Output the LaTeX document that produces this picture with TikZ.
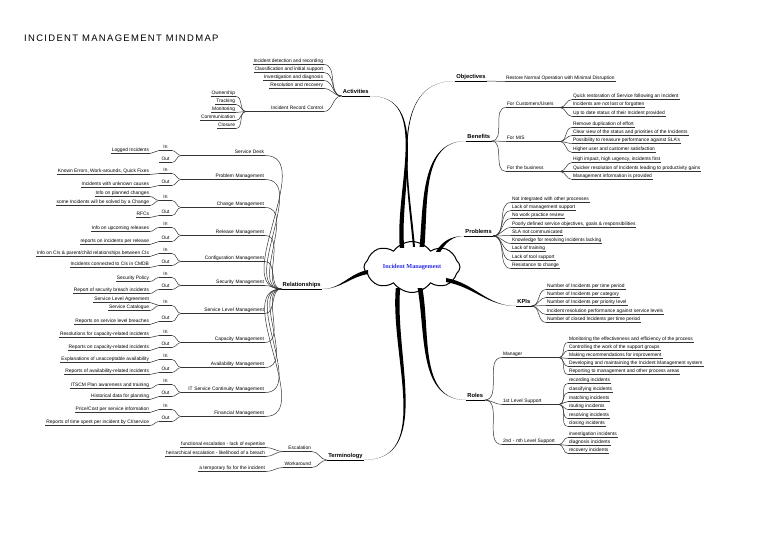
\documentclass[tikz,border=0pt]{standalone}
\usepackage{fontspec}
\setmainfont{Liberation Sans}
\newfontfamily\serifb{Liberation Serif}
\usetikzlibrary{shapes.symbols,calc}
\tikzset{
 lf/.style={font=\fontsize{4.9}{5}\selectfont, inner sep=0.8bp, text height=3.5bp, text depth=0.9bp},
 ml/.style={font=\fontsize{5.8}{6}\selectfont\bfseries, inner sep=1.2bp, text height=4bp, text depth=1bp},
 ul/.style={line width=0.5bp, black!80},
 con/.style={line width=0.5bp, black!80},
 brc/.style={black},
}
\newcommand\RN[6][]{\node[lf,anchor=south west,#1] (#2) at (#3,-#4-3.5) {#5};
 \draw[ul] (#2.south west)--(#2.south east);
 \draw[con] (#6.south east) to[out=0,in=180] (#2.south west);}
\newcommand\LN[6][]{\node[lf,anchor=south east,#1] (#2) at (#3,-#4-3.5) {#5};
 \draw[ul] (#2.south west)--(#2.south east);
 \draw[con] (#6.south west) to[out=180,in=0] (#2.south east);}
\newcommand\BR[5]{\fill[brc] ($(#1)+(#5)$) to[out=#3,in=#4] (#2) to[out=#4,in=#3] ($(#1)-(#5)$) -- cycle;}
\begin{document}
\begin{tikzpicture}[x=1bp,y=1bp]
\useasboundingbox (0,0) rectangle (768,-543);
\fill[white] (0,0) rectangle (768,-543);
\node[anchor=west,inner sep=0,font=\fontsize{9.5}{10}\selectfont\addfontfeature{LetterSpace=14}] (title) at (24,-38) {INCIDENT MANAGEMENT MINDMAP};
% cloud
\node[cloud,cloud puffs=8,cloud puff arc=110,aspect=2.2,draw,line width=1bp,minimum width=96bp,minimum height=44bp,inner sep=0,
 font=\fontsize{6.2}{7}\selectfont\serifb\bfseries,text={rgb,255:red,40;green,40;blue,230}] (cl) at (412,-267) {Incident Management};
% main labels
\node[ml,anchor=south east] (act) at (370,-96) {Activities};
\node[ml,anchor=south west] (obj) at (455,-81) {Objectives};
\node[ml,anchor=south west] (ben) at (466,-141) {Benefits};
\node[ml,anchor=south west] (pro) at (464,-236) {Problems};
\node[ml,anchor=south west] (kpi) at (516,-306) {KPIs};
\node[ml,anchor=south west] (rol) at (466,-400) {Roles};
\node[ml,anchor=south east] (rel) at (322,-289) {Relationships};
\node[ml,anchor=south east] (ter) at (364,-460) {Terminology};
\foreach \n in {act,obj,ben,pro,kpi,rol,rel,ter}{\draw[line width=0.9bp] (\n.south west)--(\n.south east);}
% branches
\coordinate (sAct) at (402,-248);
\coordinate (sObj) at (414,-247);
\coordinate (sBen) at (422,-247);
\coordinate (sPro) at (438,-252);
\coordinate (sKpi) at (446,-280);
\coordinate (sRol) at (420,-288);
\coordinate (sRel) at (368,-272);
\coordinate (sTer) at (398,-288);
\BR{sAct}{act.south east}{95}{0}{2.2,0}
\BR{sObj}{obj.south west}{95}{180}{1,0}
\BR{sBen}{ben.south west}{85}{180}{2.4,0}
\BR{sPro}{pro.south west}{60}{180}{2.2,0}
\BR{sKpi}{kpi.south west}{-10}{180}{0,2}
\BR{sRol}{rol.south west}{-80}{180}{2.4,0}
\BR{sRel}{rel.south east}{190}{0}{0,2}
\BR{sTer}{ter.south east}{-95}{0}{2.2,0}
% Objectives
\RN{o1}{505}{78}{Restore Normal Operation with Minimal Disruption}{obj}
% Benefits
\RN[text width=52bp]{b1}{506}{104}{For Customers/Users}{ben}
\RN[text width=52bp]{b2}{506}{138}{For MIS}{ben}
\RN[text width=52bp]{b3}{506}{168}{For the business}{ben}
\RN{b11}{572}{96}{Quick restoration of Service following an Incident}{b1}
\RN{b12}{572}{104}{Incidents are not lost or forgotten}{b1}
\RN{b13}{572}{113}{Up to date status of their Incident provided}{b1}
\RN{b21}{572}{124}{Remove duplication of effort}{b2}
\RN{b22}{572}{132}{Clear view of the status and priorities of the Incidents}{b2}
\RN{b23}{572}{140}{Possibility to measure performance against SLA's}{b2}
\RN{b24}{572}{149}{Higher user and customer satisfaction}{b2}
\RN{b31}{572}{159}{High impact, high urgency, incidents first}{b3}
\RN{b32}{572}{168}{Quicker resolution of Incidents leading to productivity gains}{b3}
\RN{b33}{572}{176}{Management information is provided}{b3}
% Problems
\RN{p1}{511}{199}{Not integrated with other processes}{pro}
\RN{p2}{511}{207}{Lack of management support}{pro}
\RN{p3}{511}{215}{No work practice review}{pro}
\RN{p4}{511}{224}{Poorly defined service objectives, goals \& responsibilities}{pro}
\RN{p5}{511}{232}{SLA not communicated}{pro}
\RN{p6}{511}{240}{Knowledge for resolving incidents lacking}{pro}
\RN{p7}{511}{248}{Lack of training}{pro}
\RN{p8}{511}{257}{Lack of tool support}{pro}
\RN{p9}{511}{265}{Resistance to change}{pro}
% KPIs
\RN{k1}{546}{286}{Number of Incidents per time period}{kpi}
\RN{k2}{546}{294}{Number of Incidents per category}{kpi}
\RN{k3}{546}{302}{Number of Incidents per priority level}{kpi}
\RN{k4}{546}{311}{Incident resolution performance against service levels}{kpi}
\RN{k5}{546}{319}{Number of closed Incidents per time period}{kpi}
% Roles
\RN[text width=55bp]{r1}{502}{354}{Manager}{rol}
\RN[text width=55bp]{r2}{502}{401}{1st Level Support}{rol}
\RN[text width=55bp]{r3}{502}{441}{2nd - nth Level Support}{rol}
\RN{r11}{568}{339}{Monitoring the effectiveness and efficiency of the process}{r1}
\RN{r12}{568}{347}{Controlling the work of the support groups}{r1}
\RN{r13}{568}{355}{Making recommendations for improvement}{r1}
\RN{r14}{568}{363}{Developing and maintaining the Incident Management system}{r1}
\RN{r15}{568}{371}{Reporting to management and other process areas}{r1}
\RN{r21}{568}{380}{recording incidents}{r2}
\RN{r22}{568}{389}{classifying incidents}{r2}
\RN{r23}{568}{398}{matching incidents}{r2}
\RN{r24}{568}{406}{routing incidents}{r2}
\RN{r25}{568}{415}{resolving incidents}{r2}
\RN{r26}{568}{423}{closing incidents}{r2}
\RN{r31}{568}{434}{investigation incidents}{r3}
\RN{r32}{568}{442}{diagnosis incidents}{r3}
\RN{r33}{568}{450}{recovery incidents}{r3}
% Activities
\LN{a1}{324}{61}{Incident detection and recording}{act}
\LN{a2}{324}{69}{Classification and initial support}{act}
\LN{a3}{324}{77}{Investigation and diagnosis}{act}
\LN{a4}{324}{85}{Resolution and recovery}{act}
\LN[text width=76bp,align=right]{a5}{324}{108}{Incident Record Control}{act}
\LN{a51}{236}{93}{Ownership}{a5}
\LN{a52}{236}{101}{Tracking}{a5}
\LN{a53}{236}{109}{Monitoring}{a5}
\LN{a54}{236}{117}{Communication}{a5}
\LN{a55}{236}{125}{Closure}{a5}
% Terminology
\LN[text width=27bp,align=right]{t1}{312}{448}{Escalation}{ter}
\LN[text width=27bp,align=right]{t2}{312}{464}{Workaround}{ter}
\LN{t11}{266}{444}{functional escalation - lack of expertise}{t1}
\LN{t12}{266}{453}{heirarchical escalation - likelihood of a breach}{t1}
\LN{t21}{266}{468}{a temporary fix for the incident}{t2}
% Relationships
\foreach \id/\y/\t/\yi/\yo in {
 sd/152/Service Desk/147/159,
 pm/176/Problem Management/170/182,
 cm/204/Change Management/197/212,
 rm/232/Release Management/224/238,
 cf/258/Configuration Management/250/262,
 se/282/Security Management/274/286,
 sl/310/Service Level Management/302/318,
 ca/339/Capacity Management/332/344,
 av/364/Availability Management/356/369,
 it/389/IT Service Continuity Management/381/393,
 fi/413/Financial Management/406/418}{
 \LN[text width=82bp,align=right]{\id}{265}{\y}{\t}{rel}
 \LN[text width=11bp,align=center]{\id i}{172}{\yi}{In}{\id}
 \LN[text width=11bp,align=center]{\id o}{172}{\yo}{Out}{\id}
}
\LN{sd1}{150}{150}{Logged Incidents}{sdi}
\LN{pm1}{150}{171}{Known Errors, Work-arounds, Quick Fixes}{pmi}
\LN{pm2}{150}{184}{Incidents with unknown causes}{pmo}
\LN{cm1}{150}{193}{Info on planned changes}{cmi}
\LN{cm2}{150}{202}{some Incidents will be solved by a Change}{cmi}
\LN{cm3}{150}{214}{RFCs}{cmo}
\LN{rm1}{150}{228}{Info on upcoming releases}{rmi}
\LN{rm2}{150}{241}{reports on incidents per release}{rmo}
\LN{cf1}{150}{253}{Info on CIs \& parent/child relationships between CIs}{cfi}
\LN{cf2}{150}{264}{Incidents connected to CIs in CMDB}{cfo}
\LN{se1}{150}{278}{Security Policy}{sei}
\LN{se2}{150}{290}{Report of security breach incidents}{seo}
\LN{sl1}{150}{299}{Service Level Agreement}{sli}
\LN{sl2}{150}{307}{Service Catalogue}{sli}
\LN{sl3}{150}{321}{Reports on service level breaches}{slo}
\LN{ca1}{150}{334}{Resolutions for capacity-related incidents}{cai}
\LN{ca2}{150}{347}{Reports on capacity-related incidents}{cao}
\LN{av1}{150}{359}{Explanations of unacceptable availability}{avi}
\LN{av2}{150}{371}{Reports of availability-related incidents}{avo}
\LN{it1}{150}{385}{ITSCM Plan awareness and training}{iti}
\LN{it2}{150}{396}{Historical data for planning}{ito}
\LN{fi1}{150}{409}{Price/Cost per service information}{fii}
\LN{fi2}{150}{422}{Reports of time spent per incident by CI/service}{fio}
\end{tikzpicture}
\end{document}
